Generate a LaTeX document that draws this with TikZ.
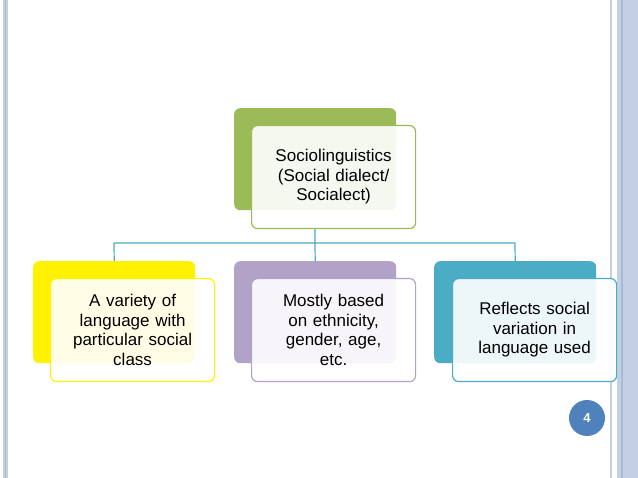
\documentclass[tikz,border=0pt]{standalone}
\usepackage{fontspec}
\setmainfont{Liberation Sans}
\begin{document}
\begin{tikzpicture}[x=1pt,y=-1pt,
  back/.style={rounded corners=6pt,minimum width=162pt,minimum height=102pt,anchor=north west,inner sep=0},
  front/.style={rounded corners=6pt,draw,line width=1.2pt,fill=white,fill opacity=0.9,text opacity=1,minimum width=164pt,minimum height=103pt,anchor=north west,align=center,font=\fontsize{17}{19.5}\selectfont,inner sep=2pt,text width=158pt},
  conn/.style={line width=1.2pt}]
\useasboundingbox (0,0) rectangle (638,478);
\fill[white] (0,0) rectangle (638,478);
\definecolor{bd}{HTML}{C3D0E3}\definecolor{bdd}{HTML}{A9B9D6}
\fill[bd] (3,0) rectangle (8,478);
\fill[bdd] (5,0) rectangle (6,478);
\fill[bd] (610,0) rectangle (612,478);
\fill[bd] (617,0) rectangle (638,478);
\fill[bdd] (621,0) rectangle (623,478);
\definecolor{gr}{HTML}{9BBB59}\definecolor{pu}{HTML}{B3A2C7}\definecolor{tl}{HTML}{4BACC6}
\definecolor{cn}{HTML}{4BACC6}\definecolor{pgc}{HTML}{4F81BD}
\node[back,fill=gr] (tb) at (234,108) {};
\node[back,fill=yellow] (b1) at (33,261) {};
\node[back,fill=pu] (b2) at (234,261) {};
\node[back,fill=tl] (b3) at (434,261) {};
\coordinate (j) at (315,243);
\coordinate (j1) at (114,243);
\coordinate (j3) at (515,243);
\draw[conn,draw=cn] (315,229) -- (j) (j1) -- (j3) (j1) -- (b1.north) (j) -- (b2.north) (j3) -- (b3.north);
\node[front,draw=gr] (tf) at (251,125) {Sociolinguistics\\(Social dialect/\\Socialect)};
\node[front,draw=yellow] (f1) at (50,278) {A variety of\\language with\\particular social\\class};
\node[front,draw=pu] (f2) at (251,278) {Mostly based\\on ethnicity,\\gender, age,\\etc.};
\node[front,draw=tl] (f3) at (452,278) {Reflects social\\variation in\\language used};
\node[circle,fill=pgc,minimum size=36pt,text=white,font=\fontsize{13}{15}\selectfont\bfseries] (pg) at (587,418) {4};
\end{tikzpicture}
\end{document}
